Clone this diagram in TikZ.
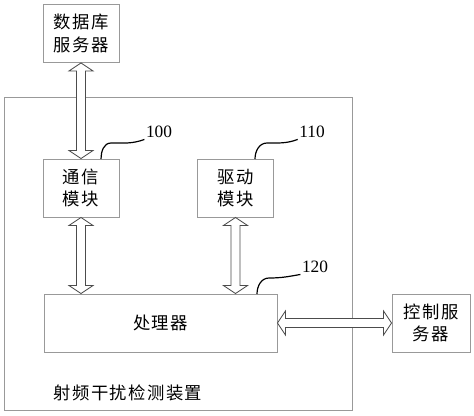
\documentclass[tikz,border=0pt]{standalone}
\usepackage{fontspec}
\newfontfamily\cjk[LetterSpace=8]{Noto Sans CJK SC}
\newfontfamily\numfont{Liberation Serif}
\usetikzlibrary{calc}
\tikzset{
x=0.75pt, y=-0.75pt, % one unit is one pixel of the sketch, y runs downwards
box/.style={draw=black!40, line width=0.7pt, align=center, inner sep=0pt,
  minimum width=57pt, minimum height=43.5pt, font=\cjk\fontsize{13}{17}\selectfont}, % every block
num/.style={font=\numfont\fontsize{13}{15}\selectfont, inner sep=1pt}, % reference numbers
lead/.style={line width=0.9pt, black}, % the wavy leader lines
bigarrow/.style={draw=black!70, fill=white, line width=0.6pt, line join=miter,
  to path={
    -- ($(\tikztostart)!6pt!(\tikztotarget)!9pt!90:(\tikztotarget)$)
    -- ($(\tikztostart)!6pt!(\tikztotarget)!3.4pt!90:(\tikztotarget)$)
    -- ($(\tikztotarget)!6pt!(\tikztostart)!3.4pt!-90:(\tikztostart)$)
    -- ($(\tikztotarget)!6pt!(\tikztostart)!9pt!-90:(\tikztostart)$)
    -- (\tikztotarget)
    -- ($(\tikztotarget)!6pt!(\tikztostart)!9pt!90:(\tikztostart)$)
    -- ($(\tikztotarget)!6pt!(\tikztostart)!3.4pt!90:(\tikztostart)$)
    -- ($(\tikztostart)!6pt!(\tikztotarget)!3.4pt!-90:(\tikztotarget)$)
    -- ($(\tikztostart)!6pt!(\tikztotarget)!9pt!-90:(\tikztotarget)$)
    -- cycle}}, % hollow double arrow
}
\begin{document}
\begin{tikzpicture}
	\useasboundingbox (0,0) rectangle (474,415);
	% the device frame
	\node[draw=black!40, line width=0.7pt, minimum width=261pt, minimum height=234.75pt, inner sep=0pt] (dev) at (178,253.5) {};
	\node[font=\cjk\fontsize{13}{17}\selectfont] (devname) at (128,393) {射频干扰检测装置};

	\node[box] (db) at (81,33.5) {数据库\\服务器};
	\node[box] (comm) at (81,188) {通信\\模块};
	\node[box] (drive) at (235.5,188) {驱动\\模块};
	\node[box, minimum width=174.75pt] (cpu) at (160.5,323) {处理器};
	\node[box, minimum width=58.5pt] (ctrl) at (431,323) {控制服\\务器};

	\draw[bigarrow] (db.south) to (comm.north);
	\draw[bigarrow] (comm.south) to (comm.south |- cpu.north);
	\draw[bigarrow] (drive.south) to (drive.south |- cpu.north);
	\draw[bigarrow] (cpu.east) to (ctrl.west);

	% reference numbers
	\node[num] (n100) at (159,132) {100};
	\node[num] (n110) at (312,132) {110};
	\node[num] (n120) at (315,267) {120};
	\coordinate (c100) at (101,159);
	\coordinate (c110) at (255,159);
	\coordinate (c120) at (257,294);
	\draw[lead] (c100) to[out=90,in=180] ++(10,-16) to[out=0,in=200] (n100.south west);
	\draw[lead] (c110) to[out=90,in=180] ++(12,-16) to[out=0,in=200] (n110.south west);
	\draw[lead] (c120) to[out=90,in=180] ++(12,-16) to[out=0,in=190] (n120.south west);
\end{tikzpicture}
\end{document}
